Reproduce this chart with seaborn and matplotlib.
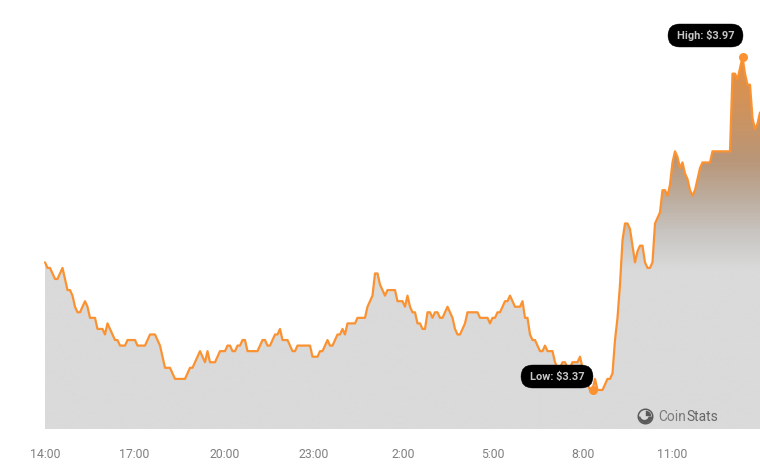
import numpy as np
import pandas as pd
import seaborn as sns
import matplotlib
matplotlib.use("Agg")
import matplotlib.pyplot as plt
from matplotlib.colors import LinearSegmentedColormap
from matplotlib.patches import FancyBboxPatch, Circle, Wedge, Polygon

sns.set_theme(style="white")
plt.rcParams['font.family'] = ['Roboto', 'DejaVu Sans']

START_LABELS = ["14:00", "17:00", "20:00", "23:00", "2:00", "5:00", "8:00", "11:00"]
TICK_HOURS = [0, 2.987, 5.973, 8.96, 11.947, 14.933, 17.92, 20.907]

prices_a = [3.60,3.59,3.59,3.58,3.57,3.57,3.58,3.59,3.57,3.55,3.55,3.54,3.52,3.51,3.51,3.52,3.53,3.52,3.50,3.50,
            3.50,3.48,3.48,3.48,3.47,3.49,3.48,3.47,3.46,3.46,3.45,3.45,3.45,3.46,3.46,3.46,3.46,3.45,3.45,3.45,
            3.45,3.46,3.47,3.47,3.47,3.46,3.45,3.43,3.41,3.41,3.41,3.40,3.39,3.39,3.39,3.39,3.39,3.40,3.41,3.41,
            3.42,3.43,3.44,3.43,3.42,3.44,3.42,3.42,3.42,3.43,3.44,3.44,3.44,3.45,3.45,3.44,3.44,3.45,3.45,3.46,
            3.46,3.44,3.44]
prices_b = [3.44,3.44,3.44,3.45,3.46,3.46,3.45,3.45,3.46,3.47,3.47,3.48,3.46,3.46,3.46,3.45,3.44,3.44,3.45,
            3.45,3.45,3.45,3.45,3.45,3.43,3.43,3.43,3.44,3.44,3.45,3.46,3.45,3.45,3.46,3.47,3.47,3.48,3.47,3.49,
            3.49,3.49,3.49,3.50,3.50,3.50,3.50,3.52,3.53,3.54,3.58,3.58,3.56,3.55,3.54,3.55,3.55,3.55,3.55,3.53,
            3.53,3.53,3.52,3.54,3.52,3.51,3.51,3.49,3.49,3.48,3.48,3.51,3.51,3.50,3.51,3.51,3.50,3.50,3.51,3.52,
            3.51,3.50,3.48,3.47,3.47,3.48,3.49,3.51,3.51,3.51,3.51,3.51,3.50,3.50,3.50,3.50,3.49,3.50,3.50,3.51,
            3.51,3.52,3.53,3.53,3.54]
prices_c = [3.53,3.52,3.52,3.52,3.53,3.50,3.50,3.47,3.46,3.46,3.45,3.44,3.44,3.45,3.44,3.44,3.44,3.42,3.41,
            3.41,3.42,3.42,3.41,3.41,3.42,3.42,3.42,3.43,3.41,3.39,3.38,3.37,3.37,3.39,3.37,3.37,3.37,3.38,3.39,
            3.39,3.40,3.46,3.50,3.56,3.64,3.67,3.67,3.66,3.63,3.60,3.62,3.63,3.63,3.60,3.59,3.59,3.60,3.67,3.68,
            3.69,3.73,3.73,3.72,3.74,3.78,3.80,3.79,3.77,3.78,3.76,3.75,3.73,3.72,3.73,3.75,3.77,3.78,3.78,3.78,
            3.78,3.80,3.80,3.80,3.80,3.80,3.80,3.80,3.80,3.94,3.94,3.93,3.95,3.97,3.94,3.92,3.92,3.86,3.84,3.85,
            3.87]
prices = prices_a + prices_b + prices_c
hours = np.arange(len(prices)) * 5 / 60
df = pd.DataFrame({"hours": hours, "price": prices})

W, H = 760, 472
fig = plt.figure(figsize=(W / 100, H / 100), dpi=100, facecolor="white")
ax = fig.add_axes([45 / W, (H - 429) / H, 715 / W, 429 / H])

y_bottom, y_top = 3.2997, 4.0727
x_max = hours[-1]
ax.set_xlim(0, x_max)
ax.set_ylim(y_bottom, y_top)

# area gradient
stops = [(57, "#e8903f"), (75, "#de914b"), (160, "#b99678"), (200, "#bdaea0"),
         (235, "#c9c6c3"), (270, "#dadada"), (429, "#dadada")]
cmap = LinearSegmentedColormap.from_list("grad", [((p - 57) / (429 - 57), c) for p, c in stops])
grad = np.linspace(0, 1, 372)[:, None]
img = ax.imshow(grad, cmap=cmap, aspect="auto", origin="upper",
                extent=[0, x_max, y_bottom, 3.97], zorder=1, interpolation="bilinear")
poly = Polygon(np.column_stack([np.r_[0, hours, x_max], np.r_[y_bottom, prices, y_bottom]]),
               closed=True, transform=ax.transData, facecolor="none", edgecolor="none")
ax.add_patch(poly)
img.set_clip_path(poly)
ax.set_xlim(0, x_max)
ax.set_ylim(y_bottom, y_top)

sns.lineplot(data=df, x="hours", y="price", ax=ax, color="#fb9231", linewidth=1.6,
             zorder=3, errorbar=None, estimator=None, clip_on=False)

for s in ax.spines.values():
    s.set_visible(False)
ax.set_xlabel("")
ax.set_ylabel("")
ax.set_yticks([])
ax.set_xticks(TICK_HOURS)
ax.set_xticklabels(START_LABELS, fontsize=8.8, color="#808080")
ax.tick_params(axis="x", length=0, pad=13.5)
ax.grid(False)

# high / low markers
imax = int(np.argmax(prices))
imin = int(np.argmin(prices[200:])) + 200 + 1
ax.plot([hours[imax]], [prices[imax]], "o", color="#fb9231", ms=6.5, zorder=4, mec="none", clip_on=False)
ax.plot([hours[imin]], [prices[imin]], "o", color="#fb9231", ms=6.5, zorder=4, mec="none", clip_on=False)

def pill(x0, y0, x1, y1, text):
    r = (y1 - y0) / 2
    trans = fig.dpi_scale_trans
    p = FancyBboxPatch(((x0 + r) / 100, (H - y1 + r) / 100), (x1 - x0 - 2 * r) / 100, 0,
                       boxstyle=f"round,pad={r / 100},rounding_size={r / 100}",
                       transform=trans, facecolor="#000000", edgecolor="#000000", lw=0.3, zorder=5)
    fig.add_artist(p)
    fig.text((x0 + x1) / 2 / W, (H - (y0 + y1) / 2 - 0.3) / H, text, color="#c6c6c6", fontsize=7.95,
             fontweight="bold", ha="center", va="center", zorder=6)

pill(668, 24, 743, 47, "High: $3.97")
pill(521, 365, 593, 388, "Low: $3.37")

# watermark
cx, cy = 645.5, H - 416.5
tr = fig.dpi_scale_trans
fig.add_artist(Wedge((cx / 100, cy / 100), 0.08, 0, 360, width=0.015, transform=tr,
                     facecolor="#5a5a5a", edgecolor="none", zorder=5))
fig.add_artist(Wedge((cx / 100, cy / 100), 0.068, 180, 360, width=0.068, transform=tr,
                     facecolor="#5a5a5a", edgecolor="none", zorder=5))
fig.add_artist(Circle(((cx - 1.0) / 100, (cy + 0.8) / 100), 0.042, transform=tr,
                      facecolor="#dadada", edgecolor="none", zorder=5))
fig.add_artist(Wedge(((cx + 0.3) / 100, (cy + 0.3) / 100), 0.055, 0, 90, width=0.055, transform=tr,
                     facecolor="#5a5a5a", edgecolor="none", zorder=5))
t1 = fig.text(658 / W, (H - 417) / H, "Coin", color="#7c7c7c", fontsize=9.9,
              va="center", ha="left", zorder=6)
fig.canvas.draw()
bb = t1.get_window_extent()
fig.text((bb.x1 + 0.3) / W, (H - 417) / H, "Stats", color="#666666", fontsize=9.9, va="center", ha="left", zorder=6)

fig.savefig("out.png", dpi=100, facecolor="white")
